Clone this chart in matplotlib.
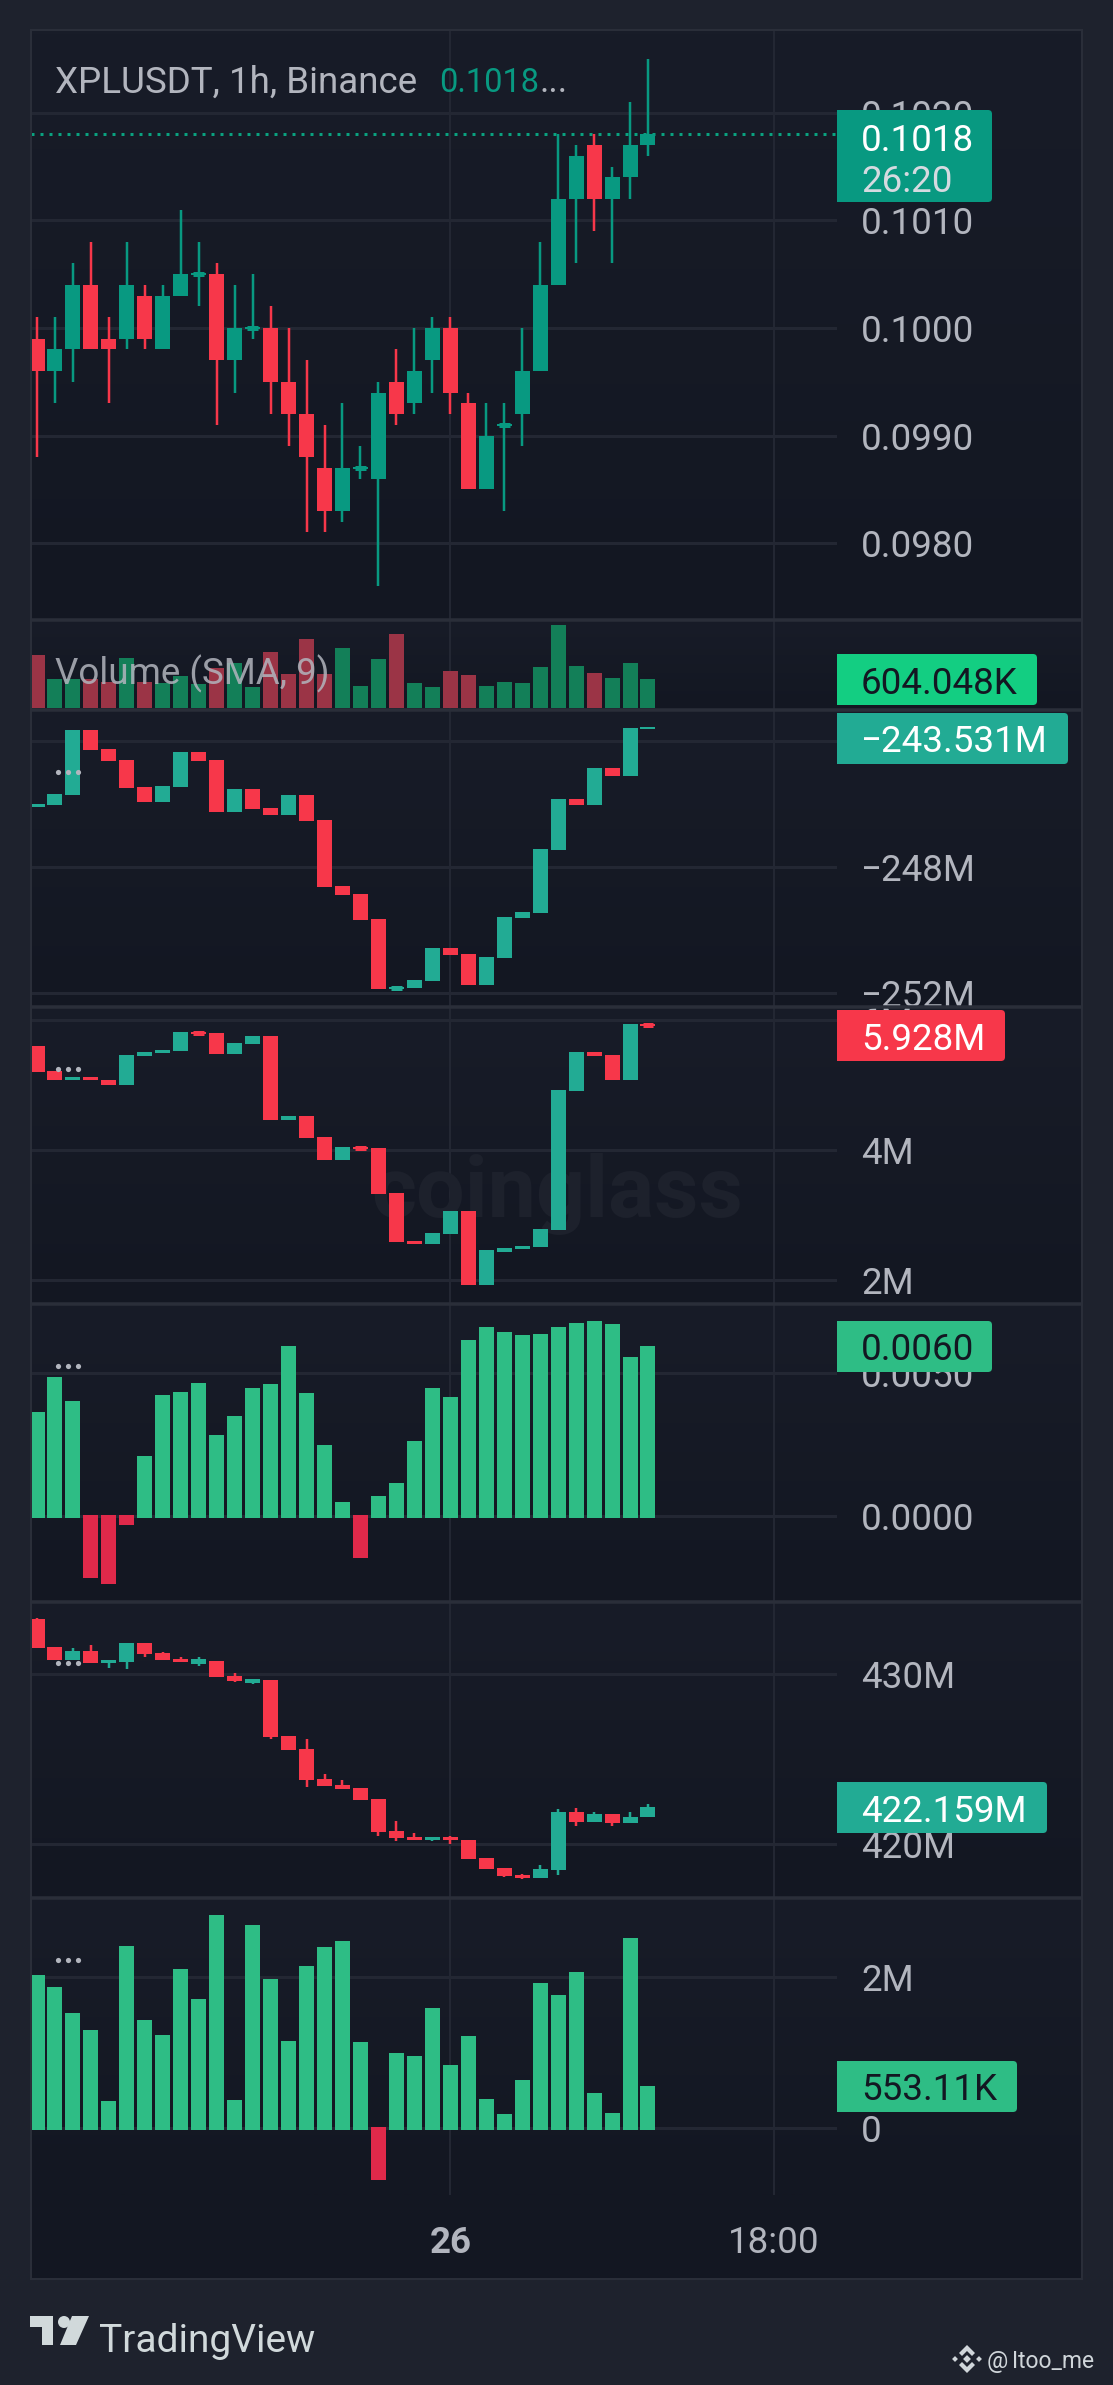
import numpy as np
import matplotlib
matplotlib.use("Agg")
import matplotlib.pyplot as plt
from matplotlib.colors import LinearSegmentedColormap
from matplotlib.patches import FancyBboxPatch, Polygon, Rectangle, Circle
from matplotlib.transforms import Bbox

plt.rcParams['font.family'] = ['Roboto', 'DejaVu Sans']

## data
time_ticks = [23, 41]
time_labels = ["26", "18:00"]

# XPLUSDT 1h candles
price_open = [.0999, .0996, .0998, .1004, .0999, .0999, .1003, .0998, .1003, .1005, .1005, .0997, .1000, .1000, .0995, .0992, .0987, .0983,
              .0987, .0986, .0995, .0993, .0997, .1000, .0993, .0985, .0991, .0992, .0996, .1004, .1012, .1017, .1012, .1014, .1017]
price_high = [.1001, .1001, .1006, .1008, .1001, .1008, .1004, .1004, .1011, .1008, .1006, .1004, .1005, .1002, .1000, .0997, .0991, .0993,
              .0989, .0995, .0998, .1000, .1001, .1001, .0994, .0993, .0993, .1000, .1008, .1018, .1017, .1018, .1015, .1021, .1025]
price_low = [.0988, .0993, .0995, .0998, .0993, .0998, .0998, .0998, .1003, .1002, .0991, .0994, .0999, .0992, .0989, .0981, .0981, .0982,
             .0986, .0976, .0991, .0992, .0994, .0992, .0985, .0985, .0983, .0989, .0996, .1004, .1006, .1009, .1006, .1012, .1016]
price_close = [.0996, .0998, .1004, .0998, .0998, .1004, .0999, .1003, .1005, .1005, .0997, .1000, .1000, .0995, .0992, .0988, .0983, .0987,
               .0987, .0994, .0992, .0996, .1000, .0994, .0985, .0990, .0991, .0996, .1004, .1012, .1016, .1012, .1014, .1017, .1018]
price_ticks = [.0980, .0990, .1000, .1010, .1020]
price_labels = ["0.0980", "0.0990", "0.1000", "0.1010", "0.1020"]

# volume, in K
volume = [1112, 604, 604, 604, 547, 1045, 547, 527, 671, 499, 834, 949, 441, 1170, 710, 1439, 710, 1256,
          460, 1026, 1544, 527, 432, 777, 690, 460, 547, 527, 854, 1736, 882, 729, 623, 940, 604]
volume_up = [0, 1, 1, 0, 0, 1, 0, 1, 1, 1, 0, 1, 1, 0, 0, 0, 0, 1, 1, 1, 0, 1, 1, 0, 0, 1, 1, 1, 1, 1, 1, 0, 1, 1, 1]

# third pane, in M
cvd_open = [-246.09, -246.03, -245.71, -243.65, -244.25, -244.60, -245.45, -245.93, -245.45, -244.35, -244.60, -246.24, -245.52, -246.12,
            -246.34, -245.71, -246.50, -248.59, -248.85, -249.64, -251.86, -251.82, -251.61, -250.56, -250.75, -251.74, -250.87, -249.61,
            -249.46, -247.45, -245.83, -246.03, -244.85, -245.10, -243.64]
cvd_close = [-245.99, -245.68, -243.65, -244.28, -244.63, -245.49, -245.93, -245.42, -244.35, -244.63, -246.24, -245.52, -246.16, -246.34,
             -245.71, -246.53, -248.63, -248.88, -249.67, -251.86, -251.79, -251.57, -250.56, -250.78, -251.74, -250.85, -249.58, -249.42,
             -247.42, -245.83, -246.03, -244.85, -245.10, -243.61, -243.56]
cvd_ticks = [-252, -248, -244]
cvd_labels = ["\u2212252M", "\u2212248M", "\u2212244M"]

# fourth pane, in M
oi_open = [5.60, 5.22, 5.08, 5.13, 5.09, 5.00, 5.45, 5.50, 5.53, 5.82, 5.81, 5.48, 5.64, 5.76, 4.47, 4.53, 4.21, 3.85, 4.05, 4.04, 3.34, 2.61,
           2.56, 2.71, 3.07, 1.92, 2.44, 2.48, 2.52, 2.78, 4.91, 5.51, 5.47, 5.08, 5.95]
oi_close = [5.20, 5.08, 5.13, 5.08, 5.00, 5.47, 5.51, 5.54, 5.82, 5.79, 5.48, 5.65, 5.76, 4.47, 4.53, 4.19, 3.85, 4.05, 4.02, 3.33, 2.59, 2.56,
            2.73, 3.07, 1.92, 2.46, 2.50, 2.53, 2.79, 4.93, 5.51, 5.45, 5.08, 5.95, 5.92]
oi_ticks = [2, 4, 6]
oi_labels = ["2M", "4M", "6M"]

# fifth pane, histogram
rate = [.00365, .00488, .00403, -.00214, -.00236, -.00029, .00211, .00424, .00435, .00467, .00285, .00351, .00449, .00463, .00595, .00432,
        .00250, .00051, -.00145, .00072, .00117, .00264, .00449, .00417, .00617, .00662, .00645, .00634, .00638, .00662, .00677, .00684,
        .00673, .00558, .00595]
rate_ticks = [0, .005]
rate_labels = ["0.0000", "0.0050"]

# sixth pane, in M
oc_open = [433.26, 431.60, 430.84, 431.37, 430.67, 430.72, 431.84, 431.26, 430.91, 430.63, 430.79, 429.91, 429.51, 429.67, 426.37, 425.60,
           423.84, 423.49, 423.33, 422.67, 420.79, 420.44, 420.26, 420.42, 420.26, 419.21, 418.60, 418.21, 418.02, 418.49, 421.91, 421.33,
           421.79, 421.26, 421.60]
oc_high = [433.30, 431.60, 431.56, 431.72, 430.81, 431.84, 431.84, 431.33, 431.02, 431.02, 430.79, 430.07, 429.74, 429.67, 426.37, 426.19,
           424.14, 423.79, 423.33, 422.67, 421.37, 420.67, 420.44, 420.49, 420.26, 419.21, 418.60, 418.26, 418.79, 422.07, 422.14, 421.91,
           421.79, 421.91, 422.37]
oc_low = [431.56, 430.84, 430.84, 430.67, 430.37, 430.30, 431.02, 430.84, 430.72, 430.51, 429.84, 429.56, 429.44, 426.19, 425.56, 423.37,
          423.44, 423.26, 422.60, 420.49, 420.21, 420.26, 420.21, 420.02, 419.14, 418.56, 418.07, 417.95, 418.02, 418.21, 421.07, 421.33,
          421.07, 421.26, 421.60]
oc_close = [431.56, 430.84, 431.37, 430.67, 430.81, 431.84, 431.19, 430.84, 430.72, 430.91, 429.84, 429.60, 429.74, 426.33, 425.56, 423.79,
            423.44, 423.26, 422.60, 420.72, 420.37, 420.26, 420.44, 420.26, 419.14, 418.56, 418.14, 418.02, 418.56, 421.91, 421.33, 421.79,
            421.26, 421.60, 422.19]
oc_ticks = [420, 430]
oc_labels = ["420M", "430M"]

# seventh pane, in M
delta = [2.031, 1.872, 1.528, 1.302, .362, 2.415, 1.435, 1.236, 2.110, 1.713, 2.826, .375, 2.693, 1.978, 1.157, 2.150, 2.402, 2.481, 1.143,
         -.684, .998, .958, 1.594, .839, 1.223, .389, .190, .640, 1.925, 1.766, 2.071, .468, .203, 2.521, .553]
delta_ticks = [0, 2]
delta_labels = ["0", "2M"]

## colours and layout, in pixels of the 1113x2385 picture
W, H = 1113, 2385
OUTER = "#1E222D"
TOP_BG, BOTTOM_BG = "#181C28", "#131722"
LINE = "#2A2E39"
GRID = "#232733"
TXT = "#B2B5BE"
GREEN = "#089981"
TEAL = "#22AB94"
RED = "#F7374A"
HIST_GREEN = "#2EBD85"
HIST_RED = "#E0294A"
VOL_GREEN = "#137F58"
VOL_RED = "#9B3446"
FS = 26.5

LEFT, SCALE, RIGHT = 30.5, 837, 1082
TOP, TIME_TOP, BOTTOM = 30, 2195, 2279
edges = [30, 619.5, 709.5, 1007, 1304, 1601.5, 1898, 2195]
X0, STEP = 37, 17.97  # x of bar 0 and bar spacing
BAR_W = 15 / STEP
xs = np.arange(35)


def px(v):
    """pixels to points"""
    return v * 0.72


def new_axes(y0, y1, x0=LEFT, x1=SCALE):
    return fig.add_axes([x0 / W, 1 - y1 / H, (x1 - x0) / W, (y1 - y0) / H])


def pane(i, ylim, ticks=None, labels=None):
    """one pane of the chart, with its grid and its right hand scale"""
    y0, y1 = edges[i], edges[i + 1]
    ax = new_axes(y0, y1)
    ax.set_zorder(2)
    ax.patch.set_visible(False)
    ax.set_xlim((LEFT - X0) / STEP, (SCALE - X0) / STEP)
    ax.set_ylim(*ylim)
    for s in ax.spines.values():
        s.set_visible(False)
    ax.set_axisbelow(True)
    ax.set_xticks(time_ticks)
    ax.tick_params(axis='x', length=0, labelbottom=False)
    ax.grid(True, axis='x', color=GRID, lw=px(2))
    ax.set_yticks(ticks if ticks is not None else [])
    if ticks is not None:
        ax.set_yticklabels(labels)
        ax.tick_params(axis='y', length=0, left=False, right=False, labelleft=False, labelright=True,
                       labelcolor=TXT, labelsize=FS, pad=px(24))
        ax.grid(True, axis='y', color=GRID, lw=px(3))
        # labels near a pane edge are cut by the pane
        clip = Bbox([[LEFT, H - y1], [RIGHT, H - y0]])
        for t in ax.yaxis.get_major_ticks():
            t.label2.set_clip_box(clip)
            t.label2.set_clip_on(True)
    return ax


def candles(ax, o, c, hi=None, lo=None, up=GREEN, down=RED, tiny=0):
    o, c = np.array(o), np.array(c)
    col = np.array([up if b >= a else down for a, b in zip(o, c)])
    if hi is not None:
        ax.vlines(xs, lo, hi, colors=col, lw=px(2.5), zorder=3)
    ax.bar(xs, np.abs(c - o), bottom=np.minimum(o, c), width=BAR_W, color=col, zorder=3)
    small = np.abs(c - o) < tiny
    if small.any():
        # open and close nearly equal: thin line with a small block on it
        mid = (o[small] + c[small]) / 2
        ax.hlines(mid, xs[small] - BAR_W / 2, xs[small] + BAR_W / 2, colors=col[small], lw=px(2), zorder=3)
        ax.hlines(mid, xs[small] - .3, xs[small] + .3, colors=col[small], lw=px(5), zorder=3)


def hist(ax, v, overlap):
    v = np.array(v)
    col = [HIST_GREEN if a >= 0 else HIST_RED for a in v]
    base = np.where(v >= 0, -overlap, overlap)
    ax.bar(xs, v - base, bottom=base, width=BAR_W, color=col, zorder=3)


fig = plt.figure(figsize=(W / 100, H / 100), dpi=100, facecolor=OUTER)

## background, one gradient per pane
bg = fig.add_axes([0, 0, 1, 1])
bg.axis("off")
cmap = LinearSegmentedColormap.from_list("pane", [TOP_BG, BOTTOM_BG])
for i in range(len(edges) - 1):
    bg.imshow(np.linspace(0, 1, 128)[:, None], cmap=cmap, aspect="auto",
              extent=[LEFT, RIGHT, edges[i + 1], edges[i]], zorder=1)
bg.add_patch(Rectangle((LEFT, TIME_TOP), RIGHT - LEFT, BOTTOM - TIME_TOP, color=BOTTOM_BG, lw=0, zorder=1))
bg.set_xlim(0, W)
bg.set_ylim(H, 0)

## panes
ax1 = pane(0, (.09729, .10277), price_ticks, price_labels)
candles(ax1, price_open, price_close, price_high, price_low, tiny=1e-6)
ax1.axhline(price_close[-1], color="#0AA27F", lw=px(3), ls=(0, (1, 2)), zorder=2)

ax2 = pane(1, (-29, 1851))
ax2.bar(xs, volume, width=BAR_W, color=[VOL_GREEN if u else VOL_RED for u in volume_up], zorder=3)

ax3 = pane(2, (-252.43, -243.01), cvd_ticks, cvd_labels)
candles(ax3, cvd_open, cvd_close, up=TEAL, tiny=.075)

ax4 = pane(3, (1.635, 6.207), oi_ticks, oi_labels)
ax4.text(28.94, 2.976, "coinglass", color="#1D212C", fontsize=62, fontweight="bold", ha="center", va="baseline", zorder=1)
candles(ax4, oi_open, oi_close, up=TEAL, tiny=.04)

ax5 = pane(4, (-.00297, .00742), rate_ticks, rate_labels)
hist(ax5, rate, .00005)

ax6 = pane(5, (416.84, 434.28), oc_ticks, oc_labels)
candles(ax6, oc_open, oc_close, oc_high, oc_low, up=TEAL)

ax7 = pane(6, (-.883, 3.046), delta_ticks, delta_labels)
hist(ax7, delta, .02)
ax7.tick_params(axis='x', labelbottom=True, labelcolor=TXT, labelsize=FS, pad=px(30))
ax7.set_xticklabels(time_labels)
ax7.get_xticklabels()[0].set_fontweight("bold")

## everything on top of the panes: borders, legends, badges, logos
top = fig.add_axes([0, 0, 1, 1])
top.set_zorder(5)
top.patch.set_visible(False)
top.set_xlim(0, W)
top.set_ylim(H, 0)
top.axis("off")

top.add_patch(Rectangle((LEFT, TOP), RIGHT - LEFT, BOTTOM - TOP, fill=False, ec=LINE, lw=px(2)))
for y in edges[1:-1]:
    top.plot([LEFT, RIGHT], [y, y], color=LINE, lw=px(3.5), solid_capstyle="butt")


def badge(y0, y1, x1, color, text, tcolor="white", y_text=None):
    x0 = SCALE
    top.add_patch(FancyBboxPatch((x0 + 8, y0 + 4), x1 - x0 - 12, y1 - y0 - 8, boxstyle="round,pad=4,rounding_size=4",
                                 fc=color, ec="none", zorder=4))
    top.add_patch(Rectangle((x0, y0), 20, y1 - y0, fc=color, ec="none", zorder=4))
    top.text(861, (y0 + y1) / 2 if y_text is None else y_text, text, color=tcolor, fontsize=FS, ha="left", va="center_baseline", zorder=5)


badge(110, 202, 992, GREEN, "0.1018", y_text=137)
top.text(861, 178, "26:20", color="#D5DAE0", fontsize=FS, ha="left", va="center_baseline", zorder=5)
badge(654, 705, 1037, "#13CE82", "604.048K", "#131722")
badge(713, 764, 1068, TEAL, "\u2212243.531M")
badge(1010, 1061, 1005, RED, "5.928M")
badge(1321, 1372, 992, HIST_GREEN, "0.0060", "#131722")
badge(1782, 1833, 1047, TEAL, "422.159M")
badge(2061, 2112, 1017, HIST_GREEN, "553.11K", "#131722")

top.text(55, 79, "XPLUSDT, 1h, Binance", color=TXT, fontsize=26.5, ha="left", va="center_baseline")
top.text(439, 79, "0.1018", color=GREEN, fontsize=23.5, ha="left", va="center_baseline")
top.text(539, 79, "...", color=TXT, fontsize=25.5, ha="left", va="center_baseline")
top.text(55, 670, "Volume (SMA, 9)", color=TXT, alpha=.85, fontsize=26.5, ha="left", va="center_baseline")

# the "..." of the indicator legends
for y in [772, 1069, 1366, 1663, 1960]:
    top.scatter([58, 68, 78], [y, y, y], s=14, color=TXT, linewidths=0)

# TradingView logo
LOGO = "#D1D9DB"
top.add_patch(Polygon([(30, 2316), (53, 2316), (53, 2345), (42, 2345), (42, 2327), (30, 2327)], fc=LOGO, ec="none"))
top.add_patch(Circle((64, 2322), 6, fc=LOGO, ec="none"))
top.add_patch(Polygon([(72, 2316), (89, 2316), (76, 2345), (60, 2345)], fc=LOGO, ec="none"))
top.text(99, 2337, "TradingView", color=LOGO, fontsize=28, ha="left", va="center_baseline")

# credit, bottom right
CREDIT = "#D0D6DA"
cx, cy = 967, 2359
for s in (-1, 1):
    top.add_patch(Polygon([(cx, cy + s * 14), (cx + 8, cy + s * 6), (cx + 5, cy + s * 3), (cx, cy + s * 8),
                           (cx - 5, cy + s * 3), (cx - 8, cy + s * 6)], fc=CREDIT, ec="none"))
top.scatter([cx - 12, cx + 12, cx], [cy, cy, cy], marker="D", s=[9, 9, 16], color=CREDIT, linewidths=0)
top.text(987, cy, "@", color=CREDIT, fontsize=17, ha="left", va="center_baseline")
top.text(1012, cy, "Itoo_me", color=CREDIT, fontsize=16.5, ha="left", va="center_baseline")

fig.savefig("out.png", dpi=100, facecolor=OUTER)
